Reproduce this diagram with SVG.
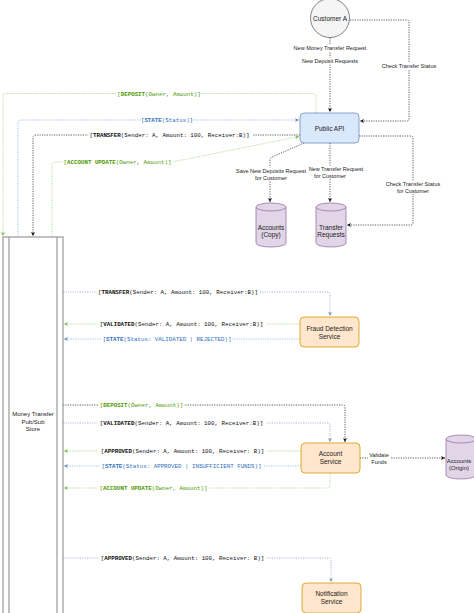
<svg xmlns="http://www.w3.org/2000/svg" width="474" height="613" viewBox="0 0 474 613">
<style>
.bg{fill:#ffffff}
.e{fill:none;stroke-width:0.8;stroke-dasharray:1.2 1.2}
.k{stroke:#333333}
.g{stroke:#a6cf86}
.b{stroke:#8fb0e3}
.s{stroke:#97a8c8}
.lbl{font-family:"Liberation Sans",Arial,sans-serif;font-size:5.5px;fill:#222;text-anchor:middle}
.nl{font-family:"Liberation Sans",Arial,sans-serif;font-size:6.5px;fill:#222;text-anchor:middle}
.m{font-family:"Liberation Mono","Courier New",monospace;font-size:5.8px;text-anchor:middle}
.mk{fill:#111}
.mg{fill:#4d9900}
.mb{fill:#2f6fbd}
.kw{font-weight:bold}
.blue{fill:#dae8fc;stroke:#6c8ebf;stroke-width:0.8}
.orange{fill:#ffe6cc;stroke:#d79b00;stroke-width:0.8}
.purple{fill:#e1d5e7;stroke:#9673a6;stroke-width:0.8}
</style>
<defs>
<marker id="ak" viewBox="0 0 6 6" refX="6" refY="3" markerWidth="4" markerHeight="4" orient="auto" markerUnits="userSpaceOnUse"><path d="M0,0 L6,3 L0,6 L1.5,3 Z" fill="#111"/></marker>
<marker id="ag" viewBox="0 0 6 6" refX="6" refY="3" markerWidth="4" markerHeight="4" orient="auto" markerUnits="userSpaceOnUse"><path d="M0,0 L6,3 L0,6 L1.5,3 Z" fill="#7fbf4f"/></marker>
<marker id="ab" viewBox="0 0 6 6" refX="6" refY="3" markerWidth="4" markerHeight="4" orient="auto" markerUnits="userSpaceOnUse"><path d="M0,0 L6,3 L0,6 L1.5,3 Z" fill="#6c8ebf"/></marker>
<marker id="as" viewBox="0 0 6 6" refX="6" refY="3" markerWidth="4" markerHeight="4" orient="auto" markerUnits="userSpaceOnUse"><path d="M0,0 L6,3 L0,6 L1.5,3 Z" fill="#8098c0"/></marker>
</defs>
<rect width="474" height="613" fill="#ffffff"/>

<g id="connectors">
  <path class="e k" d="M330,38 V112" marker-end="url(#ak)"/>
  <rect class="bg" x="293" y="44.5" width="74" height="7"/>
  <text class="lbl" x="330" y="50">New Money Transfer Request</text>
  <rect class="bg" x="302" y="57.5" width="56" height="7"/>
  <text class="lbl" x="330" y="63">New Deposit Requests</text>
  <path class="e k" d="M350,20 H407 Q409,20 409,22 V119 Q409,121 407,121 H360" marker-end="url(#ak)"/>
  <rect class="bg" x="382" y="62.5" width="55" height="7"/>
  <text class="lbl" x="409" y="68">Check Transfer Status</text>
  <path class="e k" d="M304,143 L272,157 Q270,158 270,161 V202" marker-end="url(#ak)"/>
  <rect class="bg" x="236" y="167.5" width="70" height="13"/>
  <text class="lbl" x="271" y="173">Save New Deposits Request</text>
  <text class="lbl" x="271" y="180">for Customer</text>
  <path class="e k" d="M330,143 V202" marker-end="url(#ak)"/>
  <rect class="bg" x="308" y="165.5" width="58" height="13"/>
  <text class="lbl" x="336" y="171">New Transfer Request</text>
  <text class="lbl" x="330" y="178">for Customer</text>
  <path class="e k" d="M359,136 H411 Q413,136 413,138 V223 Q413,225 411,225 H347" marker-end="url(#ak)"/>
  <rect class="bg" x="386" y="180.5" width="55" height="13"/>
  <text class="lbl" x="413" y="186">Check Transfer Status</text>
  <text class="lbl" x="413" y="193">for Customer</text>

  <path class="e g" d="M316,113 V96 Q316,93.5 313,93.5 H6 Q3,93.5 3,96 V236" marker-end="url(#ag)"/>
  <rect class="bg" x="117" y="90" width="84" height="7"/>
  <text class="m mg" x="159" y="95.5">[<tspan class="kw">DEPOSIT</tspan>(Owner, Amount)]</text>
  <path class="e b" d="M18,237 V123 Q18,120 21,120 H299" marker-end="url(#ab)"/>
  <rect class="bg" x="141" y="116.5" width="52" height="7"/>
  <text class="m mb" x="167" y="122">[<tspan class="kw">STATE</tspan>(Status)]</text>
  <path class="e k" d="M300,135 H36 Q33,135 33,138 V236" marker-end="url(#ak)"/>
  <rect class="bg" x="88" y="131.5" width="164" height="7"/>
  <text class="m mk" x="169.5" y="137">[<tspan class="kw">TRANSFER</tspan>(Sender: A, Amount: 100, Receiver:B)]</text>
  <path class="e g" d="M52,237 V166 Q52,162 56,162 H172 L299,136.5" marker-end="url(#ag)"/>
  <rect class="bg" x="63" y="158.5" width="109" height="7"/>
  <text class="m mg" x="117.5" y="164">[<tspan class="kw">ACCOUNT UPDATE</tspan>(Owner, Amount)]</text>

  <path class="e s" d="M63,292 H328 Q330,292 330,294 V316" marker-end="url(#as)"/>
  <rect class="bg" x="96" y="288.5" width="164" height="7"/>
  <text class="m mk" x="178" y="294">[<tspan class="kw">TRANSFER</tspan>(Sender: A, Amount: 100, Receiver:B)]</text>
  <path class="e g" d="M300,324 H64" marker-end="url(#ag)"/>
  <rect class="bg" x="98" y="320.5" width="168" height="7"/>
  <text class="m mk" x="181.5" y="326">[<tspan class="kw">VALIDATED</tspan>(Sender: A, Amount: 100, Receiver:B)]</text>
  <path class="e b" d="M300,339 H64" marker-end="url(#ab)"/>
  <rect class="bg" x="102" y="335.5" width="130" height="7"/>
  <text class="m mb" x="167" y="341">[<tspan class="kw">STATE</tspan>(Status: VALIDATED | REJECTED)]</text>

  <path class="e k" d="M63,405 H343 Q345,405 345,407 V442" marker-end="url(#ak)"/>
  <rect class="bg" x="99" y="401.5" width="85" height="7"/>
  <text class="m mg" x="141.5" y="407">[<tspan class="kw">DEPOSIT</tspan>(Owner, Amount)]</text>
  <path class="e s" d="M63,423 H328 Q330,423 330,425 V442" marker-end="url(#as)"/>
  <rect class="bg" x="97" y="419.5" width="169" height="7"/>
  <text class="m mk" x="181.5" y="425">[<tspan class="kw">VALIDATED</tspan>(Sender: A, Amount: 100, Receiver:B)]</text>
  <path class="e g" d="M301,451 H64" marker-end="url(#ag)"/>
  <rect class="bg" x="98" y="447.5" width="169" height="7"/>
  <text class="m mk" x="182.5" y="453">[<tspan class="kw">APPROVED</tspan>(Sender: A, Amount: 100, Receiver: B)]</text>
  <path class="e b" d="M301,466 H64" marker-end="url(#ab)"/>
  <rect class="bg" x="99" y="462.5" width="165" height="7"/>
  <text class="m mb" x="181.5" y="468">[<tspan class="kw">STATE</tspan>(Status: APPROVED | INSUFFICIENT FUNDS)]</text>
  <path class="e g" d="M330,473 V486 Q330,488 328,488 H64" marker-end="url(#ag)"/>
  <rect class="bg" x="98" y="484.5" width="111" height="7"/>
  <text class="m mg" x="153.5" y="490">[<tspan class="kw">ACCOUNT UPDATE</tspan>(Owner, Amount)]</text>
  <path class="e k" d="M360,458 H445" marker-end="url(#ak)"/>
  <rect class="bg" x="368" y="451" width="22" height="13"/>
  <text class="lbl" x="379" y="456.5">Validate</text>
  <text class="lbl" x="379" y="463.5">Funds</text>
  <path class="e s" d="M63,558 H329 Q331,558 331,560 V582" marker-end="url(#as)"/>
  <rect class="bg" x="98" y="554.5" width="169" height="7"/>
  <text class="m mk" x="182.5" y="560">[<tspan class="kw">APPROVED</tspan>(Sender: A, Amount: 100, Receiver: B)]</text>
</g>

<g id="customer-a">
  <circle cx="330" cy="18" r="19.5" fill="#f5f5f5" stroke="#666666" stroke-width="0.8"/>
  <text class="nl" x="330" y="20.5">Customer A</text>
</g>
<g id="public-api">
  <rect class="blue" x="300" y="113" width="59" height="30" rx="4"/>
  <text class="nl" x="329.5" y="130.5">Public API</text>
</g>
<g id="accounts-copy">
  <path class="purple" d="M256,207 A15,4 0 0 1 286,207 V243 A15,4 0 0 1 256,243 Z"/>
  <path class="purple" fill="none" d="M256,207 A15,4 0 0 0 286,207"/>
  <text class="nl" x="271" y="229.5">Accounts</text>
  <text class="nl" x="271" y="237">(Copy)</text>
</g>
<g id="transfer-requests">
  <path class="purple" d="M316,207 A15,4 0 0 1 346,207 V243 A15,4 0 0 1 316,243 Z"/>
  <path class="purple" fill="none" d="M316,207 A15,4 0 0 0 346,207"/>
  <text class="nl" x="331" y="229.5">Transfer</text>
  <text class="nl" x="331" y="237">Requests</text>
</g>
<g id="pubsub-store">
  <rect x="3" y="237" width="60" height="400" fill="#ffffff" stroke="#999999" stroke-width="1.2"/>
  <line x1="9" y1="237" x2="9" y2="613" stroke="#999999" stroke-width="1.2"/>
  <line x1="57" y1="237" x2="57" y2="613" stroke="#999999" stroke-width="1.2"/>
  <text class="lbl" x="33" y="416" style="font-size:6px">Money Transfer</text>
  <text class="lbl" x="33" y="423.5" style="font-size:6px">Pub/Sub</text>
  <text class="lbl" x="33" y="431" style="font-size:6px">Store</text>
</g>
<g id="fraud-detection">
  <rect class="orange" x="300" y="317" width="59" height="30" rx="4"/>
  <text class="nl" x="329.5" y="331">Fraud Detection</text>
  <text class="nl" x="329.5" y="338.5">Service</text>
</g>
<g id="account-service">
  <rect class="orange" x="301" y="443" width="59" height="30" rx="4"/>
  <text class="nl" x="330.5" y="456">Account</text>
  <text class="nl" x="330.5" y="463.5">Service</text>
</g>
<g id="accounts-origin">
  <path class="purple" d="M446,439 A15,4 0 0 1 476,439 V475 A15,4 0 0 1 446,475 Z"/>
  <path class="purple" fill="none" d="M446,439 A15,4 0 0 0 476,439"/>
  <text class="nl" x="459" y="462.5" style="font-size:6px">Accounts</text>
  <text class="nl" x="459" y="470" style="font-size:6px">(Origin)</text>
</g>
<g id="notification-service">
  <rect class="orange" x="302" y="583" width="59" height="30" rx="4"/>
  <text class="nl" x="331.5" y="596">Notification</text>
  <text class="nl" x="331.5" y="603.5">Service</text>
</g>
</svg>
